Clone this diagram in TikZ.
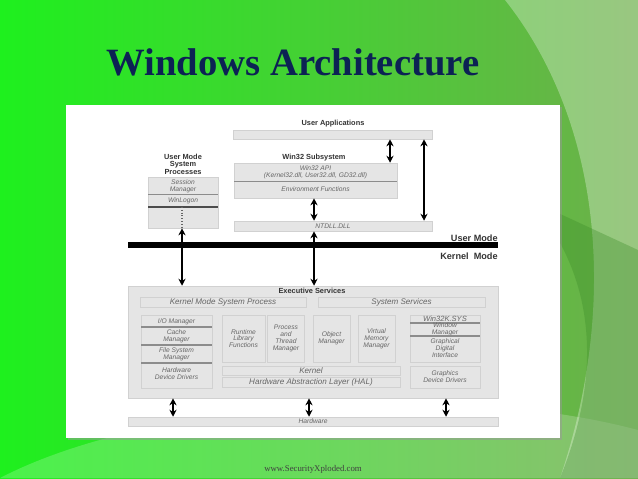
\documentclass[tikz,border=0pt]{standalone}
\usepackage{fontspec}
\setmainfont{Liberation Serif}
\setsansfont{Liberation Sans}
\usetikzlibrary{shadows,arrows.meta}
\definecolor{navy}{RGB}{12,34,84}
\definecolor{bgl}{RGB}{30,240,30}
\definecolor{bgr}{RGB}{110,175,75}
\definecolor{bgd}{RGB}{60,140,40}
\tikzset{
  x=0.02cm,y=-0.02cm,
  blk/.style={fill=black!10, draw=black!18, line width=0.3pt, inner sep=0pt, align=center,
    drop shadow={shadow xshift=0.4pt,shadow yshift=-0.5pt,fill=black!35,opacity=0.7},
    font=\sffamily\itshape\fontsize{3.8}{3.9}\selectfont, text=black!60},
  box/.style 2 args={minimum width=#1*0.02cm, minimum height=#2*0.02cm},
  hd/.style={font=\sffamily\bfseries\fontsize{4.2}{4.3}\selectfont, text=black!80, align=center, inner sep=0pt},
  it/.style={font=\sffamily\itshape\fontsize{3.8}{3.9}\selectfont, text=black!60, align=center, inner sep=0pt},
  dar/.style={{Stealth[length=4pt,width=4pt]}-{Stealth[length=4pt,width=4pt]}, line width=0.9pt},
  sep/.style={black!45, line width=0.6pt},
  bar/.style={font=\sffamily\itshape\fontsize{4.6}{4.6}\selectfont}
}
\begin{document}
\begin{tikzpicture}
\useasboundingbox (0,0) rectangle (638,478);
% background
\shade[left color=bgl, right color=bgr] (0,0) rectangle (638,478);
\fill[white, opacity=0.3] (505,0) .. controls (600,120) and (620,300) .. (560,478) -- (638,478) -- (638,0) -- cycle;
\fill[white, opacity=0.2] (0,478) .. controls (150,400) and (450,380) .. (638,430) -- (638,478) -- cycle;
\fill[bgd, opacity=0.35] (530,200) .. controls (600,280) and (600,380) .. (560,478) -- (638,478) -- (638,250) -- cycle;
% title
\node[font=\bfseries\fontsize{22}{24}\selectfont, text=navy] (title) at (293,62) {Windows Architecture};
% panel
\node[fill=white, minimum width=494*0.02cm, minimum height=333*0.02cm, inner sep=0pt,
  drop shadow={shadow xshift=1pt,shadow yshift=-1pt,fill=black!40}] (panel) at (313,271.5) {};
% user mode part
\node[hd] (ualbl) at (333,124) {User Applications};
\node[blk, box={199}{9}] (ua) at (332.5,134.5) {};
\node[hd] (umlbl) at (183,164) {User Mode\\System\\Processes};
\node[blk, box={70}{51}] (ums) at (183,202.5) {};
\node[it] (sm) at (183,186) {Session\\Manager};
\draw[sep] (148,194.5) -- (218,194.5);
\node[it] (wl) at (183,201) {WinLogon};
\draw[black!70, line width=0.7pt] (148,207) -- (218,207);
\node[hd] (w32lbl) at (314,158) {Win32 Subsystem};
\node[blk, box={163}{35}] (w32) at (315.5,180.5) {};
\node[it] (api) at (315.5,172) {Win32 API\\(Kernel32.dll, User32.dll, GD32.dll)};
\draw[sep] (234,181.5) -- (397,181.5);
\node[it] (env) at (315.5,189.5) {Environment Functions};
\node[blk, box={198}{10}] (nt) at (333,226) {NTDLL.DLL};
\draw[dar] (ua.south -| 390,0) -- (w32.north -| 390,0);
\draw[dar] (ua.south -| 424,0) -- (nt.north -| 424,0);
\draw[dar] (w32.south -| 314,0) -- (nt.north -| 314,0);
\draw[black!60, densely dotted, line width=0.6pt] (182,207) -- (ums.south -| 182,0);
% mode line
\draw[line width=3pt] (128,245) coordinate (ml) -- (498,245) coordinate (mr);
\node[hd, anchor=south east, font=\sffamily\bfseries\fontsize{5.2}{5.2}\selectfont] (um) at (498,242) {User Mode};
\node[hd, anchor=north east, font=\sffamily\bfseries\fontsize{5.2}{5.2}\selectfont] (km) at (498,253) {Kernel\ \ Mode};
% executive
\node[blk, box={370}{112}] (ex) at (313,342) {};
\node[hd] (exl) at (312,291) {Executive Services};
\draw[dar] (ex.north -| 182,0) -- (ums.south -| 182,0);
\draw[dar] (ex.north -| 314,0) -- (nt.south -| 314,0);
\node[blk, bar, box={166}{10}] (kmsp) at (223,302.5) {Kernel Mode System Process};
\node[blk, bar, box={167}{10}] (ss) at (401.5,302.5) {System Services};
\node[blk, box={71}{73}] (lc) at (176.5,351.5) {};
\node[it] (io) at (176.5,322) {I/O Manager};
\draw[sep] (141,327) -- (212,327);
\node[it] (cm) at (176.5,336) {Cache\\Manager};
\draw[sep] (141,345) -- (212,345);
\node[it] (fs) at (176.5,354) {File System\\Manager};
\draw[sep] (141,363) -- (212,363);
\node[it] (hd) at (176.5,374) {Hardware\\Device Drivers};
\node[blk, box={43}{47}] (rt) at (243.5,338.5) {Runtime\\Library\\Functions};
\node[blk, box={37}{47}] (pt) at (286,338.5) {Process\\and\\Thread\\Manager};
\node[blk, box={37}{47}] (om) at (331.5,338.5) {Object\\Manager};
\node[blk, box={37}{47}] (vm) at (376.5,338.5) {Virtual\\Memory\\Manager};
\node[blk, bar, box={178}{9}] (kr) at (311,370.5) {Kernel};
\node[blk, bar, box={178}{10}] (hal) at (311,382.5) {Hardware Abstraction Layer (HAL)};
\node[blk, box={70}{47}] (wk) at (445,338.5) {};
\node[it, font=\sffamily\itshape\fontsize{4.3}{4.3}\selectfont] (wks) at (445,318.5) {Win32K.SYS};
\draw[sep] (410,323) -- (480,323);
\node[it] (wm) at (445,329.5) {Window\\Manager};
\draw[sep] (410,336) -- (480,336);
\node[it] (gdi) at (445,348) {Graphical\\Digital\\Interface};
\node[blk, box={70}{22}] (gd) at (445,377) {Graphics\\Device Drivers};
% hardware
\node[blk, box={370}{9}] (hw) at (313,421.5) {Hardware};
\draw[dar] (ex.south -| 173,0) -- (hw.north -| 173,0);
\draw[dar] (ex.south -| 309,0) -- (hw.north -| 309,0);
\draw[dar] (ex.south -| 446,0) -- (hw.north -| 446,0);
% footer
\node[font=\fontsize{5}{6}\selectfont, text=black!75] (foot) at (313,469) {www.SecurityXploded.com};
\end{tikzpicture}
\end{document}
